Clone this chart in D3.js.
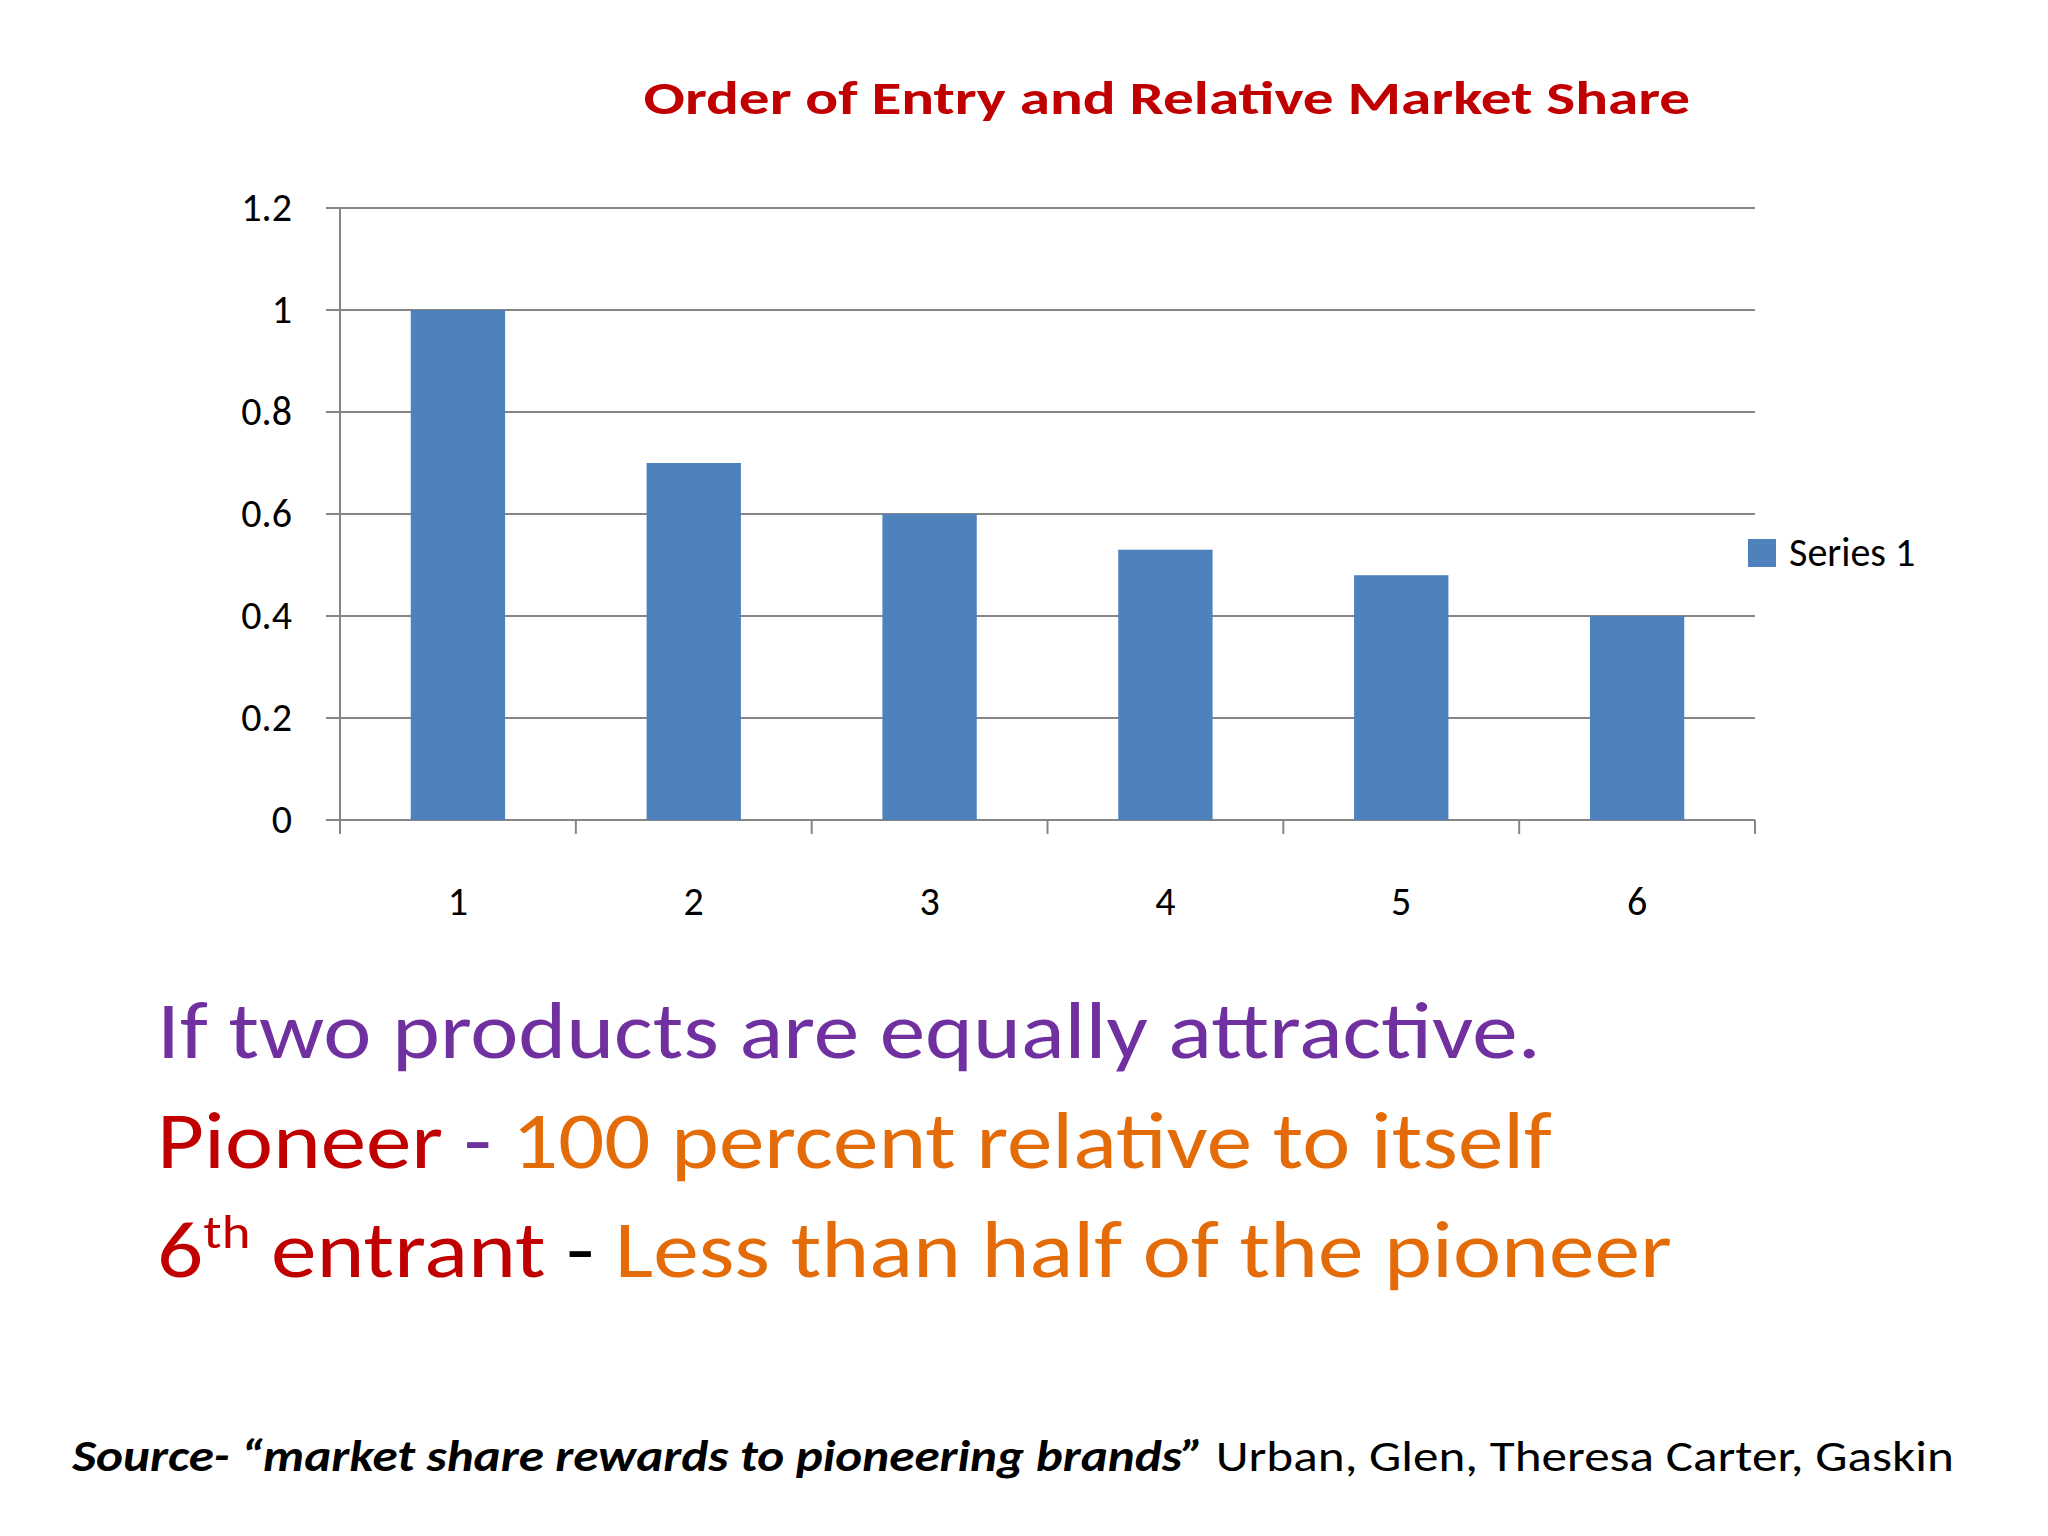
<!DOCTYPE html>
<html><head><meta charset="utf-8">
<script src="https://cdn.jsdelivr.net/npm/d3@7"></script>
<style>body{margin:0;background:#fff}svg{display:block}</style>
</head><body>
<script>
const categories = ["1","2","3","4","5","6"];
const values = [1.0, 0.7, 0.6, 0.53, 0.48, 0.4];
const yTicks = [0, 0.2, 0.4, 0.6, 0.8, 1, 1.2];
const seriesName = "Series 1";
const FONT = "Carlito, 'Open Sans', sans-serif";

const svg = d3.select("body").append("svg").attr("width",2048).attr("height",1536);
const L=340,R=1755,T=208,B=820;
const x = d3.scaleBand().domain(categories).range([L,R]).paddingInner(0.6).paddingOuter(0.3);
const xb = d3.scaleBand().domain(categories).range([L,R]);
const y = d3.scaleLinear().domain([0,1.2]).range([B,T]);

function fit(sel, w){ const n=sel.node(); const bw=n.getBBox().width; const bx=n.getBBox().x;
  sel.attr("transform",`translate(${bx},0) scale(${w/bw},1) translate(${-bx},0)`); }

const t = svg.append("text").attr("x",1045).attr("y",114).attr("text-anchor","middle")
  .attr("font-family",FONT).attr("font-weight","bold").attr("font-size",47).attr("fill","#C00000")
  .text("Order of Entry and Relative Market Share");
fit(t,1047);

// grid
svg.append("g").selectAll("line").data(yTicks).join("line")
  .attr("x1",L-14).attr("x2",R).attr("y1",d=>y(d)).attr("y2",d=>y(d))
  .attr("stroke","#868686").attr("stroke-width",2);
svg.append("line").attr("x1",L).attr("x2",L).attr("y1",T).attr("y2",B).attr("stroke","#868686").attr("stroke-width",2);
// x ticks
svg.append("g").selectAll("line").data([...categories.map(c=>xb(c)), R]).join("line")
  .attr("x1",d=>d).attr("x2",d=>d).attr("y1",B).attr("y2",B+14).attr("stroke","#868686").attr("stroke-width",2);

svg.append("g").selectAll("rect").data(values).join("rect")
  .attr("x",(d,i)=>x(categories[i])).attr("width",x.bandwidth())
  .attr("y",d=>y(d)).attr("height",d=>B-y(d)).attr("fill","#4F81BD");

svg.append("g").selectAll("text").data(yTicks).join("text")
  .attr("x",292).attr("y",d=>y(d)+13).attr("text-anchor","end")
  .attr("font-family",FONT).attr("font-size",40).attr("fill","#000").text(d=>String(d));
svg.append("g").selectAll("text").data(categories).join("text")
  .attr("x",d=>xb(d)+xb.bandwidth()/2).attr("y",915).attr("text-anchor","middle")
  .attr("font-family",FONT).attr("font-size",40).attr("fill","#000").text(d=>d);

svg.append("rect").attr("x",1748).attr("y",539).attr("width",28).attr("height",28).attr("fill","#4F81BD");
svg.append("text").attr("x",1789).attr("y",566).attr("font-family",FONT).attr("font-size",40).text(seriesName);

function line(yb, parts, w, size){
  const tx = svg.append("text").attr("x",157).attr("y",yb).attr("font-family",FONT).attr("font-size",size);
  parts.forEach(p=>{ const ts=tx.append("tspan").attr("fill",p[1]).text(p[0]);
    if(p[2]) ts.attr("baseline-shift","super").attr("font-size",size*0.6);
    if(p[3]) ts.attr("font-weight","bold").attr("font-style","italic"); });
  fit(tx,w); return tx;
}
line(1058,[["If two products are equally attractive.","#7030A0"]],1384,80);
line(1168,[["Pioneer ","#C00000"],["- ","#7030A0"],["100 percent relative to itself","#E36C09"]],1395,80);
line(1277,[["6","#C00000"],["th","#C00000",true],[" entrant ","#C00000"],["- ","#000"],["Less than half of the pioneer","#E36C09"]],1515,80);
const s = svg.append("text").attr("x",72).attr("y",1471).attr("font-family",FONT).attr("font-size",44);
s.append("tspan").attr("font-weight","bold").attr("font-style","italic").text("Source- \u201cmarket share rewards to pioneering brands\u201d");
s.append("tspan").text(" Urban, Glen, Theresa Carter, Gaskin");
fit(s,1883);
</script>
</body></html>
